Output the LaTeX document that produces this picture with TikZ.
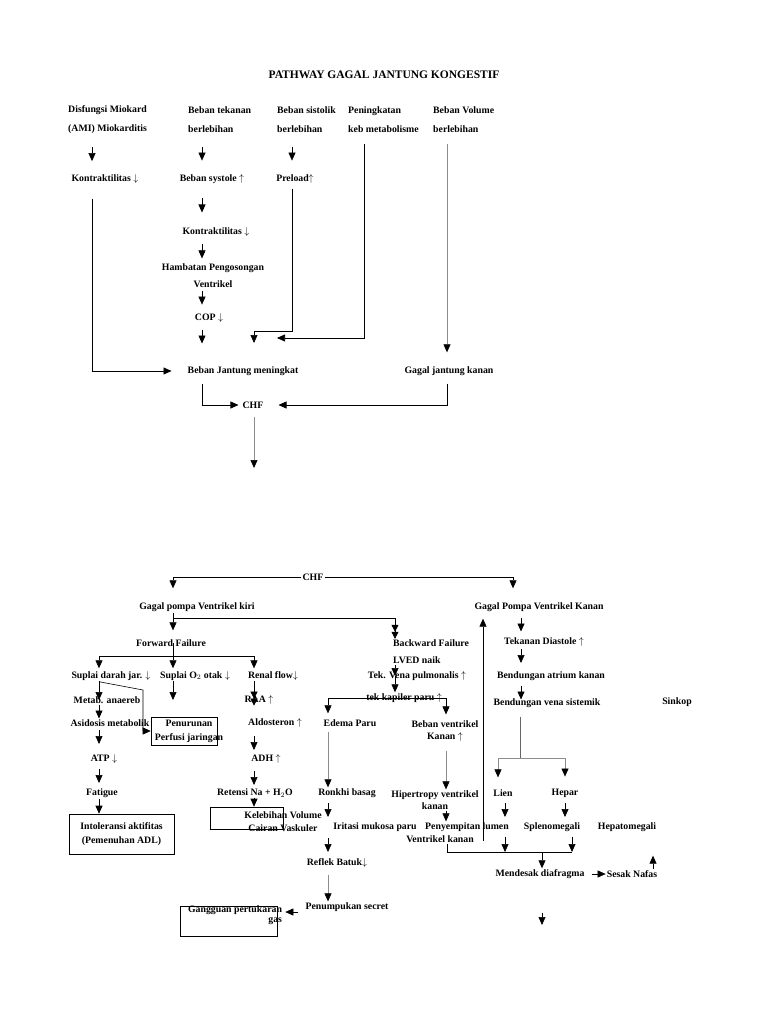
\documentclass[tikz,border=0pt]{standalone}
\usepackage{fontspec}
\setmainfont{Liberation Serif}
\usetikzlibrary{arrows.meta,calc}
\newcommand{\lsk}[1]{\fontsize{9.8}{#1}\selectfont}

\begin{document}
\begin{tikzpicture}[x=1pt, y=-1pt, font=\bfseries\lsk{12},
  every node/.style={inner sep=1pt},
  arr/.style={line width=0.6pt, -{Triangle[width=7pt,length=8pt]}},
  garr/.style={line width=0.6pt, draw=black!45, -{Triangle[width=7pt,length=8pt,black]}},
  dbl/.style={line width=0.6pt, -{Triangle[width=7pt,length=7pt]Triangle[width=7pt,length=7pt]}},
  stub/.style={to path={($(\tikztostart)!.5!(\tikztotarget)+(0,#1)$) +(0,-7) -- +(0,7)}},
  stub/.default=0,
  boxed/.style={draw, line width=0.6pt, inner sep=0pt}]

\useasboundingbox (0,0) rectangle (768,1024);

% columns used by the connectors
\coordinate (x92) at (92,0);
\coordinate (x99) at (99,0);
\coordinate (x173) at (173,0);
\coordinate (x202) at (202,0);
\coordinate (x254) at (254,0);
\coordinate (x292) at (292,0);
\coordinate (x328) at (328,0);
\coordinate (x364) at (364,0);
\coordinate (x395) at (395,0);
\coordinate (x446) at (446,0);
\coordinate (x447) at (447,0);
\coordinate (x498) at (498,0);
\coordinate (x505) at (505,0);
\coordinate (x513) at (513,0);
\coordinate (x521) at (521,0);
\coordinate (x542) at (542,0);
\coordinate (x653) at (653,0);

\node[font=\bfseries\fontsize{11.5}{14}\selectfont] (title) at (384,75) {PATHWAY GAGAL JANTUNG KONGESTIF};

% ---------- upper chart ----------
\node[anchor=west, align=left, font=\bfseries\lsk{19}] (dis) at (67,120) {Disfungsi Miokard\\(AMI) Miokarditis};
\node[anchor=west, align=left, font=\bfseries\lsk{19}] (beb) at (187,120) {Beban tekanan\\berlebihan};
\node[anchor=west, align=left, font=\bfseries\lsk{19}] (sis) at (276,120) {Beban sistolik\\berlebihan};
\node[anchor=west, align=left, font=\bfseries\lsk{19}] (met) at (347,120) {Peningkatan\\keb metabolisme};
\node[anchor=west, align=left, font=\bfseries\lsk{19}] (vol) at (432,120) {Beban Volume\\berlebihan};

\node (kon1) at (105,179) {Kontraktilitas $\downarrow$};
\node (bsys) at (212,179) {Beban systole $\uparrow$};
\node (prel) at (295,179) {Preload$\uparrow$};
\node (kon2) at (216,232) {Kontraktilitas $\downarrow$};
\node[align=center, font=\bfseries\lsk{17}] (hamb) at (213,276) {Hambatan Pengosongan\\Ventrikel};
\node (cop) at (209,318) {COP $\downarrow$};
\node (bjm) at (243,371) {Beban Jantung meningkat};
\node (gjk) at (449,371) {Gagal jantung kanan};
\node (chf) at (253,405) {CHF};

\coordinate (pbend) at (254,331);
\coordinate (ptip) at (254,343);
\coordinate (mtip) at (277,338);
\coordinate (chfend) at (254,468);

\draw[arr] (dis.south -| x92) to[stub=-3] (kon1 -| x92);
\draw[arr] (beb.south -| x202) to[stub=-3] (bsys -| x202);
\draw[arr] (sis.south -| x292) to[stub=-3] (prel -| x292);
\draw[arr] (bsys -| x202) to[stub] (kon2 -| x202);
\draw[arr] (kon2 -| x202) to[stub=4] (hamb.north -| x202);
\draw[arr] (hamb.south -| x202) to[stub=-6] (cop -| x202);
\draw[arr] (cop -| x202) to[stub=-8] (bjm -| x202);

\draw[arr, shorten <=4pt] (prel.south -| x292) |- (pbend) -- (ptip);
\draw[arr, shorten <=10pt] (met.south -| x364) |- (mtip);
\draw[garr, shorten <=10pt, shorten >=13pt] (vol.south -| x447) -- (gjk.north -| x447);
\draw[arr, shorten <=14pt, shorten >=15pt] (kon1.south -| x92) |- (bjm.west);
\draw[arr, shorten <=7pt, shorten >=3pt] (bjm.south -| x202) |- (chf.west);
\draw[arr, shorten <=7pt, shorten >=14pt] (gjk.south -| x447) |- (chf.east);
\draw[garr, shorten <=8pt] (chf.south -| x254) -- (chfend);

% ---------- lower chart ----------
\node (chf2) at (313,577) {CHF};
\node (gpk) at (197,607) {Gagal pompa Ventrikel kiri};
\node (gpkn) at (539,607) {Gagal Pompa Ventrikel Kanan};
\node (ff) at (171,643) {Forward Failure};
\node[anchor=west, align=left, font=\bfseries\lsk{17}] (bf) at (392,652) {Backward Failure\\LVED naik};
\node (tds) at (544,642) {Tekanan Diastole $\uparrow$};

\node (sdj) at (111,676) {Suplai darah jar. $\downarrow$};
\node (sot) at (195,676) {Suplai O$_2$ otak $\downarrow$};
\node (rf) at (273,676) {Renal flow$\downarrow$};
\node (tvp) at (417,676) {Tek. Vena pulmonalis $\uparrow$};
\node (bak) at (551,676) {Bendungan atrium kanan};

\node (man) at (107,700) {Metab. anaereb};
\node (raa) at (259,700) {RAA $\uparrow$};
\node (tkp) at (404,698) {tek kapiler paru $\uparrow$};
\node (bvs) at (547,703) {Bendungan vena sistemik};
\node (sinkop) at (677,702) {Sinkop};

\node (asm) at (110,723) {Asidosis metabolik};
\node[boxed, minimum width=66pt, minimum height=28pt] (ppj) at (184,731) {};
\node[align=center, font=\bfseries\lsk{14}] (ppjt) at (189,731) {Penurunan\\Perfusi jaringan};
\node (aldo) at (275,723) {Aldosteron $\uparrow$};
\node (edp) at (350,723) {Edema Paru};
\node[align=center] (bvk) at (445,731) {Beban ventrikel\\Kanan $\uparrow$};

\node (atp) at (104,759) {ATP $\downarrow$};
\node (adh) at (266,759) {ADH $\uparrow$};

\node (fat) at (102,793) {Fatigue};
\node (rna) at (255,793) {Retensi Na + H$_2$O};
\node (rkb) at (347,793) {Ronkhi basag};
\node[align=center] (hvk) at (435,800) {Hipertropy ventrikel\\kanan};
\node (lien) at (503,793) {Lien};
\node (hepar) at (565,793) {Hepar};

\node[boxed, minimum width=105pt, minimum height=40pt, align=center, font=\bfseries\lsk{14}] (ia) at (121.5,834) {Intoleransi aktifitas\\(Pemenuhan ADL)};
\node[boxed, minimum width=73pt, minimum height=22pt] (kvb) at (246.5,818) {};
\node[align=center, font=\bfseries\lsk{13}] (kvbt) at (283,822) {Kelebihan Volume\\Cairan Vaskuler};
\node (imp) at (375,827) {Iritasi mukosa paru};
\node (psl1) at (467,827) {Penyempitan lumen};
\node (psl2) at (440,839) {Ventrikel kanan};
\node (spl) at (552,827) {Splenomegali};
\node (hep) at (627,827) {Hepatomegali};

\node (rb) at (337,863) {Reflek Batuk$\downarrow$};
\node (mdf) at (540,874) {Mendesak diafragma};
\node (sn) at (632,874) {Sesak Nafas};
\node (pns) at (347,907) {Penumpukan secret};
\node[boxed, minimum width=97pt, minimum height=30pt] (gpg) at (228.5,921) {};
\node[align=right, font=\bfseries\lsk{10}] (gpgt) at (235,915) {Gangguan pertukaran\\gas};

\coordinate (j2) at (173,656);
\coordinate (j3) at (143,690);
\coordinate (sotend) at (173,700);
\coordinate (j5) at (447,852);
\coordinate (j6) at (572,852);
\coordinate (j7) at (520,758);
\coordinate (rise) at (483,841);
\coordinate (mdfend) at (542,925);

% CHF splits into left and right failure
\draw[arr, shorten >=13pt] (chf2.west) -| (gpk.north -| x173);
\draw[arr, shorten >=13pt] (chf2.east) -| (gpkn.north -| x513);
\draw[arr, shorten >=8pt] (gpk.south -| x173) -- (ff.north -| x173);
\draw[dbl] (gpk.south -| x173) ++(0,5.5) -| (bf.north -| x395);

% forward failure
\draw (ff -| j2) -- (j2);
\draw[arr, shorten >=2pt] (j2) -| (sdj.north -| x99);
\draw[arr, shorten >=2pt] (j2) -- (sot.north -| j2);
\draw[arr, shorten >=2pt] (j2) -| (rf.north -| x254);
\draw[arr, shorten <=5pt] (sdj -| x99) -- (man -| x99);
\draw[arr] (man -| x99) to[stub] (asm -| x99);
\draw[arr] (sdj.south -| x99) -- (j3) |- (ppj.west);
\draw[arr, shorten <=5pt] (sot -| x173) -- (sotend);
\draw[arr] (asm -| x99) to[stub=-4] (atp -| x99);
\draw[arr] (atp -| x99) to[stub] (fat -| x99);
\draw[arr] (fat.south -| x99) -- (ia.north -| x99);
\draw[dbl, shorten <=5pt] (rf -| x254) -- (raa.south -| x254);
\draw[arr] (aldo -| x254) to[stub=2] (adh -| x254);
\draw[arr] (adh -| x254) to[stub=2] (rna -| x254);
\draw[arr] (rna.south -| x254) -- (kvb.north -| x254);

% backward failure
\draw[arr] (bf.south -| x395) -- (tvp -| x395);
\draw[arr] (tvp -| x395) -- (tkp.north -| x395);
\draw[arr, shorten >=5pt] (tkp -| x328) -- (edp.north -| x328);
\draw[arr, shorten >=5pt] (tkp -| x328) -| (bvk.north -| x446);
\draw[garr, shorten <=4pt] (edp.south -| x328) -- (rkb.north -| x328);
\draw[arr] (rkb -| x328) to[stub] (imp -| x328);
\draw[arr] (imp -| x328) to[stub] (rb -| x328);
\draw[garr, shorten <=6pt] (rb.south -| x328) -- (pns.north -| x328);
\draw[arr, shorten <=6pt, shorten >=8pt] ([yshift=-5pt]pns.west) -- ([yshift=-5pt]pns.west -| gpg.east);
\draw[garr, shorten <=8pt] (bvk.south -| x446) -- (hvk.north -| x446);
\draw[arr] (hvk.south -| x446) -- (psl1.north -| x446);

% right failure
\draw[arr, shorten >=6pt] (rise) -- (gpkn.south -| rise);
\draw[arr] (gpkn -| x521) to[stub] (tds -| x521);
\draw[arr] (tds -| x521) to[stub=-3] (bak -| x521);
\draw[arr] (bak -| x521) to[stub=3] (bvs -| x521);
\draw[draw=black!60, line width=0.6pt, shorten <=8pt] (bvs.south -| j7) -- (j7);
\draw[garr, shorten >=11pt] (j7) -| (lien.north -| x498);
\draw[garr, shorten >=11pt] (j7) -| (hepar.north);
\draw[arr] (lien -| x505) to[stub] (psl1 -| x505);
\draw[arr] (hepar.center) to[stub] (spl -| hepar);

\draw[line width=0.6pt] (psl2.south -| j5) -- (j5) -- (j6);
\draw[arr, shorten <=4pt] (psl1.south -| x505) -- (j5 -| x505);
\draw[arr, shorten <=4pt] (spl.south -| j6) -- (j6);
\draw[arr] (j5 -| x542) -- (mdf.north -| x542);
\draw[arr, shorten <=6pt] (mdf.east) -- (sn.west);
\draw[arr, shorten >=23pt] (sn.north -| x653) -- (hep.south -| x653);
\draw[arr, shorten <=33pt] (mdf.south -| x542) -- (mdfend);

\end{tikzpicture}
\end{document}
